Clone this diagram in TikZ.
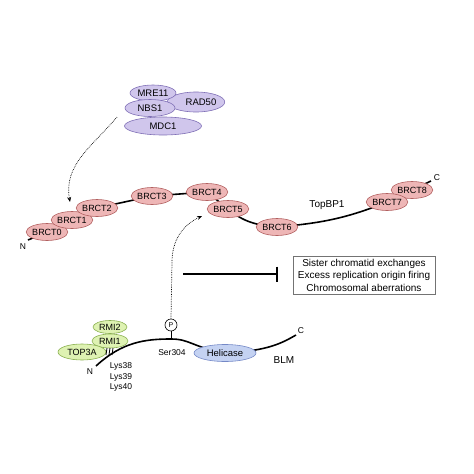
\documentclass[tikz,border=0pt]{standalone}
\usepackage{fontspec}
\setmainfont{Liberation Sans}
\usetikzlibrary{arrows.meta,shapes.geometric}

\definecolor{brctRelleno}{RGB}{238,182,182}
\definecolor{brctBorde}{RGB}{178,96,96}
\definecolor{mrnRelleno}{RGB}{208,198,236}
\definecolor{mrnBorde}{RGB}{128,112,182}
\definecolor{rmiRelleno}{RGB}{222,242,178}
\definecolor{rmiBorde}{RGB}{138,176,80}
\definecolor{heliRelleno}{RGB}{196,210,242}
\definecolor{heliBorde}{RGB}{116,136,198}

\newcommand{\coordTopBP}{
\foreach \n/\x/\y in {0/47/232,1/72/220,2/97/208,3/152/196,4/207/192,5/228/209,6/277/227,7/387/202,8/412/190}{
\coordinate (b\n) at (\x,\y);
}
\coordinate (topN) at (28,240);
\coordinate (topC) at (431,181);
}
\newcommand{\coordBLM}{
\coordinate (blmN) at (96,366);
\coordinate (ser) at (171,339);
\coordinate (heli) at (225,353);
\coordinate (blmC) at (296,335);
}

\tikzset{
dominio/.style={ellipse,inner sep=0pt,line width=0.6pt},
brct/.style={dominio,draw=brctBorde,fill=brctRelleno,minimum width=41pt,minimum height=17pt,font=\fontsize{9}{10}\selectfont},
mrn/.style={dominio,draw=mrnBorde,fill=mrnRelleno,font=\fontsize{9.5}{10}\selectfont},
rmi/.style={dominio,draw=rmiBorde,fill=rmiRelleno,font=\fontsize{9}{10}\selectfont},
helicasa/.style={dominio,draw=heliBorde,fill=heliRelleno,font=\fontsize{9.5}{10}\selectfont},
esqueleto/.style={black,line width=1.6pt},
punteado/.style={densely dotted,line width=0.7pt,-{Stealth[length=5pt,width=4pt]}},
inhibe/.style={black,line width=1.6pt,-{Bar[width=15pt]}},
etiqueta/.style={font=\fontsize{8.5}{10.5}\selectfont,inner sep=0pt},
efecto/.style={draw=black!55,line width=0.6pt,align=center,inner xsep=5pt,inner ysep=3pt,font=\fontsize{10}{12.5}\selectfont}
}

\begin{document}
\begin{tikzpicture}[x=1pt,y=-1pt]
    \useasboundingbox (0,0) rectangle (474,474);
    \coordTopBP
    \coordBLM

    % TopBP1 backbone
    \draw[esqueleto] (topN) -- (b0) -- (b1) -- (b2) -- (b3) -- (b4) -- (b5)
        to[out=-40,in=175] (b6) to[out=5,in=-158] (b7) -- (b8) -- (topC);
    \foreach \n in {0,1,2,3,4,5,6,8,7}{
        \node[brct] (BRCT\n) at (b\n) {BRCT\n};
    }
    \node[etiqueta] (nTop) at (23,247) {N};
    \node[etiqueta] (cTop) at (437,178) {C};
    \node[font=\fontsize{10}{12}\selectfont] (topbp) at (327,205) {TopBP1};

    % MRN complex
    \node[mrn,minimum width=48pt,minimum height=20pt] (RAD50) at (196,102) {\hspace{10pt}RAD50};
    \node[mrn,minimum width=46pt,minimum height=16pt] (MRE11) at (153,93) {MRE11};
    \node[mrn,minimum width=50pt,minimum height=17pt] (NBS1) at (150,108) {NBS1};
    \node[mrn,minimum width=77pt,minimum height=18pt] (MDC1) at (163,126) {MDC1};
    \coordinate (mrnSal) at (117,117);
    \draw[punteado] (mrnSal) to[out=-130,in=100] (70,202);

    % BLM backbone
    \draw[esqueleto] (blmN) .. controls (122,342) and (145,339) .. (ser)
        .. controls (190,339) and (192,347) .. (heli)
        .. controls (268,351) and (282,343) .. (blmC);
    \node[rmi,minimum width=34pt,minimum height=13pt] (RMI2) at (110,327) {RMI2};
    \node[rmi,minimum width=36pt,minimum height=14pt] (RMI1) at (110,341) {RMI1};
    \node[rmi,minimum width=48pt,minimum height=16pt] (TOP3A) at (82,352) {TOP3A};
    \node[helicasa,minimum width=62pt,minimum height=17pt] (HELI) at (heli) {Helicase};
    \foreach \d in {0,3,6}{
        \draw[line width=0.8pt] (106+\d,355) -- (107+\d,348);
    }
    \node[circle,draw,line width=0.6pt,minimum size=12pt,inner sep=0pt,font=\fontsize{7}{8}\selectfont] (P) at (171,325) {P};
    \draw[line width=0.8pt] (P.south) -- (ser);
    \node[etiqueta] (ser304) at (172,353) {Ser304};
    \node[etiqueta,align=center] (lys) at (121,377) {Lys38\\Lys39\\Lys40};
    \node[etiqueta] (nBlm) at (90,372) {N};
    \node[etiqueta] (cBlm) at (301,331) {C};
    \node[font=\fontsize{10}{12}\selectfont] (blm) at (284,360) {BLM};
    \coordinate (puntaB5) at (202,216);
    \draw[punteado] (P.north) -- (172,262) to[out=90,in=205] (puntaB5);

    % inhibited effects
    \coordinate (inhIni) at (183,274);
    \node[efecto] (efectos) at (364,275) {Sister chromatid exchanges\\Excess replication origin firing\\Chromosomal aberrations};
    \draw[inhibe] (inhIni) -- (278,274);
\end{tikzpicture}
\end{document}
